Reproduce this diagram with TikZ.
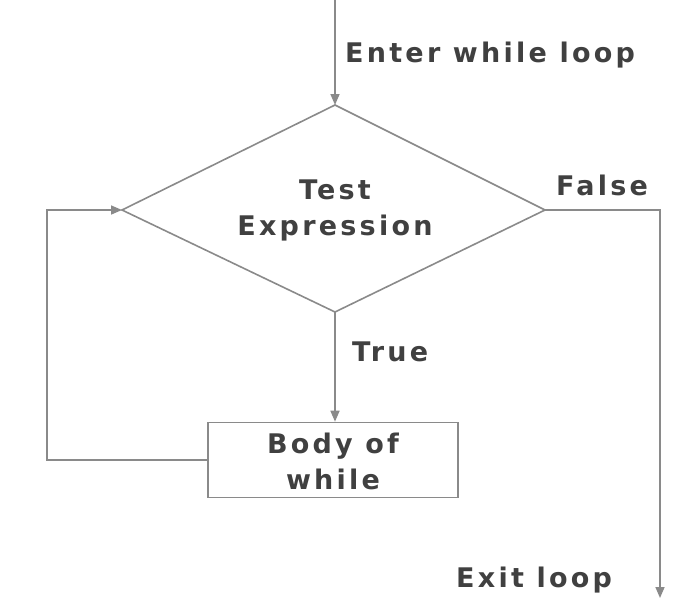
\documentclass[tikz,border=0pt]{standalone}
\usepackage{fontspec}
\setmainfont[LetterSpace=12]{DejaVu Sans}
\usetikzlibrary{arrows.meta}
\definecolor{ln}{HTML}{8A8A8A}
\definecolor{tx}{HTML}{404040}
\tikzset{
 conn/.style={draw=ln,line width=1.6pt},
 arr/.style={conn,-{Triangle[length=11pt,width=9pt]}},
 lbl/.style={text=tx,font=\fontsize{27}{36}\selectfont\bfseries,inner sep=0pt},
}
\begin{document}
\begin{tikzpicture}[x=1pt,y=-1pt]
\useasboundingbox (0,0) rectangle (690,608);
\coordinate (start) at (335,0);
\coordinate (dt) at (335,105);
\coordinate (dl) at (122,210);
\coordinate (dr) at (545,210);
\coordinate (db) at (335,312);
\draw[conn] (dt) -- (dr) -- (db) -- (dl) -- cycle;
\node[lbl,align=center] (test) at (335,210) {Test\\Expression};
\node[draw=ln,line width=1.6pt,minimum width=250pt,minimum height=75pt,inner sep=0pt] (body) at (333,460) {};
\node[lbl,align=center] (bodyt) at (333,461) {Body of\\while};
\coordinate (rc) at (660,210);
\coordinate (exit) at (660,598);
\coordinate (ll) at (47,460);
\coordinate (lu) at (47,210);
\draw[arr] (start) -- (dt);
\draw[arr] (db) -- (db |- body.north);
\draw[arr] (dr) -- (rc) -- (exit);
\draw[arr] (body.west) -- (ll) -- (lu) -- (dl);
\node[lbl,anchor=west] (enter) at (345,55) {Enter while loop};
\node[lbl,anchor=west] (false) at (556,185) {False};
\node[lbl,anchor=west] (true) at (352,352) {True};
\node[lbl,anchor=west] (exitt) at (456,580) {Exit loop};
\end{tikzpicture}
\end{document}
